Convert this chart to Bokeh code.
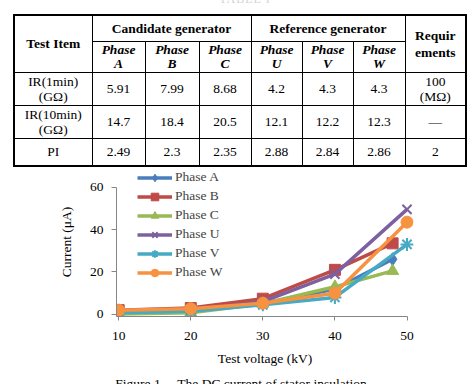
from bokeh.plotting import figure
from bokeh.layouts import column
from bokeh.models import Range1d, FixedTicker, Legend, LegendItem, Div
from bokeh.embed import file_html
from bokeh.resources import INLINE

FONT = "Liberation Serif"

# ---------------- table data ----------------
table_title = "TABLE I"
group_names = ["Candidate generator", "Reference generator"]
phase_names = ["A", "B", "C", "U", "V", "W"]
row_item_lines = [["IR(1min)", "(GΩ)"], ["IR(10min)", "(GΩ)"], ["PI"]]
ir_1min = ["5.91", "7.99", "8.68", "4.2", "4.3", "4.3"]
ir_10min = ["14.7", "18.4", "20.5", "12.1", "12.2", "12.3"]
pi_values = ["2.49", "2.3", "2.35", "2.88", "2.84", "2.86"]
requirement_lines = [["100", "(MΩ)"], ["—"], ["2"]]

# ---------------- chart data ----------------
voltage_candidate = [10, 20, 30, 40, 48]
voltage_reference = [10, 20, 30, 40, 50]
current_a = [1.0, 1.5, 5.0, 12.0, 26.0]
current_b = [2.0, 3.0, 7.4, 21.0, 33.5]
current_c = [0.2, 0.8, 5.0, 13.0, 20.5]
current_u = [1.0, 2.0, 6.0, 19.0, 49.5]
current_v = [0.8, 1.5, 4.5, 8.0, 33.0]
current_w = [2.0, 2.7, 5.3, 10.0, 43.5]
series_labels = ["Phase A", "Phase B", "Phase C", "Phase U", "Phase V", "Phase W"]
x_ticks = [10, 20, 30, 40, 50]
y_ticks = [0, 20, 40, 60]
caption = "Figure 1.&nbsp;&nbsp;&nbsp; The DC current of stator insulation"

# ================= table (HTML) =================
col_widths = [78, 53, 54, 52, 51, 51, 52, 61]
row_heights = [26, 31, 33, 33, 28]
CELL = "border:1px solid black;padding:0;text-align:center;vertical-align:middle;"

html = ['<div style="position:relative;width:474px;height:167px;overflow:hidden;">']
html.append(f'<div style="position:absolute;left:8px;top:-8px;width:474px;text-align:center;'
            f'font-family:\'{FONT}\';font-size:12px;line-height:14px;letter-spacing:1px;color:#d4d4d4;">'
            f'{table_title}</div>')
html.append(f'<table style="position:absolute;left:13px;top:14px;border-collapse:collapse;table-layout:fixed;'
            f'width:{sum(col_widths) + 1}px;border:2px solid black;font-family:\'{FONT}\';font-size:13.5px;'
            f'line-height:15px;color:black;">')
html.append("<colgroup>" + "".join(f'<col style="width:{w}px">' for w in col_widths) + "</colgroup>")
html.append(f'<tr style="height:{row_heights[0]}px">'
            f'<td rowspan="2" style="{CELL}font-weight:bold;">Test Item</td>'
            f'<td colspan="3" style="{CELL}font-weight:bold;">{group_names[0]}</td>'
            f'<td colspan="3" style="{CELL}font-weight:bold;">{group_names[1]}</td>'
            f'<td rowspan="2" style="{CELL}font-weight:bold;line-height:17px;">Requir<br>ements</td></tr>')
html.append(f'<tr style="height:{row_heights[1]}px">' +
            "".join(f'<td style="{CELL}font-weight:bold;font-style:italic;line-height:14px;">Phase<br>{ph}</td>'
                    for ph in phase_names) + "</tr>")
for r, (item, vals, req) in enumerate(zip(row_item_lines, [ir_1min, ir_10min, pi_values], requirement_lines)):
    cells = [f'<td style="{CELL}">{"<br>".join(item)}</td>']
    cells += [f'<td style="{CELL}">{v}</td>' for v in vals]
    cells.append(f'<td style="{CELL}">{"<br>".join(req)}</td>')
    html.append(f'<tr style="height:{row_heights[2 + r]}px">' + "".join(cells) + "</tr>")
html.append("</table></div>")

table_div = Div(text="".join(html), width=474, height=167, margin=0)

caption_div = Div(text=(f'<div style="width:474px;height:10px;overflow:hidden;text-align:center;'
                        f'padding-left:8px;box-sizing:border-box;font-family:\'{FONT}\';font-size:13.5px;'
                        f'line-height:16px;color:black;white-space:nowrap;">{caption}</div>'),
                  width=474, height=10, margin=0)

# ================= chart =================
p = figure(width=474, height=207, x_range=Range1d(9.7, 50.9), y_range=Range1d(-1, 69.27),
           output_backend="svg", toolbar_location=None,
           min_border_left=116, min_border_right=61, min_border_top=0, min_border_bottom=58)
p.outline_line_color = None
p.xgrid.visible = False
p.ygrid.visible = False

AX = "#868686"
for ax in (p.xaxis[0], p.yaxis[0]):
    ax.axis_line_color = AX
    ax.major_tick_line_color = AX
    ax.minor_tick_line_color = None
    ax.major_tick_in = 0
    ax.major_label_text_font = FONT
    ax.major_label_text_font_size = "13.5px"
    ax.major_label_text_color = "black"
    ax.axis_label_text_font = FONT
    ax.axis_label_text_font_size = "13.5px"
    ax.axis_label_text_font_style = "normal"
    ax.axis_label_text_color = "black"

xa = p.xaxis[0]
xa.bounds = (9.7, 50)
xa.ticker = FixedTicker(ticks=x_ticks)
xa.major_tick_out = 4
xa.major_label_standoff = 11
xa.axis_label = "Test voltage (kV)"
xa.axis_label_standoff = 8

ya = p.yaxis[0]
ya.bounds = (-1, 60)
ya.ticker = FixedTicker(ticks=y_ticks)
ya.major_tick_out = 5
ya.major_label_standoff = 8
ya.axis_label = "Current (μA)"
ya.axis_label_standoff = 13

colors = ["#4A7EBB", "#BE4B48", "#98B954", "#7D60A0", "#46AAC5", "#F69240"]
markers = ["diamond", "square", "triangle", "x", "asterisk", "circle"]
sizes = [13, 11, 12, 13, 13, 12]
xs_all = [voltage_candidate] * 3 + [voltage_reference] * 3
ys_all = [current_a, current_b, current_c, current_u, current_v, current_w]

items = []
for lab, xs, ys, col, mk, sz in zip(series_labels, xs_all, ys_all, colors, markers, sizes):
    ln = p.line(xs, ys, line_color=col, line_width=3.5)
    lw = 2 if mk in ("x", "asterisk") else 1
    sc = p.scatter(xs, ys, marker=mk, size=sz, fill_color=col, line_color=col, line_width=lw)
    items.append(LegendItem(label=lab, renderers=[ln, sc]))

legend = Legend(items=items, location=(21, 34.5), padding=0, margin=0, spacing=0,
                glyph_width=35, glyph_height=19, label_height=19, label_standoff=3,
                label_text_font=FONT, label_text_font_size="13.5px",
                background_fill_alpha=0, border_line_alpha=0)
p.add_layout(legend)

layout = column(table_div, p, caption_div)
open("out.html", "w").write(file_html(layout, INLINE))
